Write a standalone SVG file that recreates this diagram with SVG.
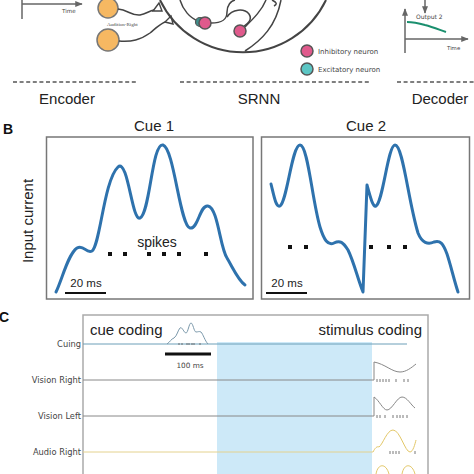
<svg xmlns="http://www.w3.org/2000/svg" width="474" height="474" viewBox="0 0 474 474">
<defs>
<style>
.lbl{font-family:"Liberation Sans",Arial,sans-serif;fill:#222}
.sm{font-family:"DejaVu Sans",sans-serif;fill:#444}
.ax{stroke:#666;stroke-width:1.5;fill:none}
.dash{stroke:#555;stroke-width:1.5;stroke-dasharray:4 2.6;fill:none}
.wire{stroke:#444;stroke-width:1.5;fill:none}
.box{stroke:#777;stroke-width:1.5;fill:none}
.cur{stroke:#2e72ad;stroke-width:3;fill:none;stroke-linejoin:round;stroke-linecap:round}
.spk{fill:#111}
.trk{stroke-width:1;fill:none}
.tick{stroke:#555;stroke-width:0.8}
</style>
<marker id="ah" viewBox="0 0 10 10" refX="9" refY="5" markerWidth="5" markerHeight="5" orient="auto">
<path d="M0,1 L10,5 L0,9 z" fill="#666"/>
</marker>
</defs>
<rect width="474" height="474" fill="#fff"/>

<!-- Encoder input plot -->
<g id="input-plot">
<line class="ax" x1="22" y1="0" x2="22" y2="19"/>
<line class="ax" x1="22" y1="4" x2="82" y2="4" marker-end="url(#ah)"/>
<text class="sm" x="62" y="13" font-size="5.6">Time</text>
</g>

<g id="encoder-neurons">
<circle cx="108" cy="8" r="10" fill="#f6b862" stroke="#777" stroke-width="1.5"/>
<circle cx="108" cy="40" r="11" fill="#f6b862" stroke="#777" stroke-width="1.5"/>
<text x="107" y="26" font-size="5" font-family="Liberation Serif,serif" fill="#444">Audition-Right</text>
</g>

<!-- connectors -->
<g id="connectors">
<path class="wire" d="M118,9 C128,10 132,16 140,15 C146,14 149,11 154,10"/>
<path class="wire" d="M119,41 C132,42 140,40 150,33 C156,28 160,24 165,22"/>
<path d="M153,11 L159,3 L162,11 Z" fill="#fff" stroke="#444" stroke-width="1.4"/>
<path d="M165,22 L171,16 L173,24 Z" fill="#fff" stroke="#444" stroke-width="1.4"/>
<path class="wire" d="M180,0 C183,10 190,18 198,21"/>
<path class="wire" d="M211,23 C222,23 227,20 227,12 C227,5 231,1 235,0"/>
<path class="wire" d="M227,17 C232,9 244,8 249,14 C253,20 247,24 243,27"/>
<path class="wire" d="M245,27 C254,18 262,10 266,0"/>
<path class="wire" d="M245,51 C262,40 276,26 281,0"/>
<path class="wire" d="M272,0 C276,2 278,4 274,6"/>
<line class="ax" x1="425" y1="0" x2="425" y2="13" marker-end="url(#ah)"/>
</g>

<g id="srnn">
<path d="M160,0 A92,92 0 0 0 326,0" fill="none" stroke="#444" stroke-width="2"/>
<circle cx="200" cy="22" r="4.5" fill="#3f8f8c" stroke="#555" stroke-width="1.2"/>
<circle cx="205" cy="23" r="6" fill="#e05a8c" stroke="#555" stroke-width="1.5"/>
<circle cx="240" cy="31" r="6" fill="#e05a8c" stroke="#555" stroke-width="1.5"/>
</g>

<g id="legend">
<circle cx="307" cy="51" r="6" fill="#e05a8c" stroke="#555" stroke-width="1.5"/>
<text class="sm" x="318" y="54" font-size="7">Inhibitory neuron</text>
<circle cx="307" cy="69" r="6" fill="#5cc6c4" stroke="#555" stroke-width="1.5"/>
<text class="sm" x="318" y="72" font-size="7">Excitatory neuron</text>
</g>

<g id="decoder-plot">
<line class="ax" x1="405" y1="53" x2="405" y2="9" marker-end="url(#ah)"/>
<line class="ax" x1="405" y1="39" x2="468" y2="39" marker-end="url(#ah)"/>
<text class="sm" x="416" y="19" font-size="6">Output 2</text>
<path d="M407,22 C412,22 418,23 425,25 C433,27 440,30 446,32" fill="none" stroke="#1a8f6e" stroke-width="2"/>
<text class="sm" x="447" y="50" font-size="5.4">Time</text>
</g>

<g id="sections">
<line class="dash" x1="13" y1="82" x2="137" y2="82"/>
<line class="dash" x1="180" y1="82" x2="369" y2="82"/>
<line class="dash" x1="397" y1="82" x2="474" y2="82"/>
<text class="lbl" x="67" y="104" font-size="15" text-anchor="middle">Encoder</text>
<text class="lbl" x="259" y="104" font-size="15" text-anchor="middle">SRNN</text>
<text class="lbl" x="440" y="104" font-size="15" text-anchor="middle">Decoder</text>
</g>

<!-- Panel B -->
<g id="panel-b">
<text x="3" y="134" font-size="14" font-weight="bold" font-family="Liberation Sans,Arial,sans-serif" fill="#111">B</text>
<text class="lbl" x="29" y="217" font-size="15" text-anchor="middle" transform="rotate(-90 33 217)">Input current</text>
</g>

<g id="cue1">
<text class="lbl" x="154" y="131" font-size="15" text-anchor="middle">Cue 1</text>
<rect class="box" x="46.5" y="137" width="206.5" height="162"/>
<path class="cur" d="M56,292 C62,280 68,254 77,248 C84,244 86,254 92,251 C100,246 104,180 118,167 C128,158 132,222 140,218 C150,214 152,142 163,145 C174,148 180,226 190,228 C198,230 200,204 208,206 C218,208 220,248 227,258 C233,268 238,280 245,285"/>
<rect class="spk" x="108" y="252" width="4" height="4"/>
<rect class="spk" x="123" y="252" width="4" height="4"/>
<rect class="spk" x="147" y="252" width="4" height="4"/>
<rect class="spk" x="162" y="252" width="4" height="4"/>
<rect class="spk" x="177" y="252" width="4" height="4"/>
<rect class="spk" x="204" y="252" width="4" height="4"/>
<text class="lbl" x="157" y="247" font-size="14" text-anchor="middle">spikes</text>
<line x1="65" y1="293" x2="106" y2="293" stroke="#111" stroke-width="2"/>
<text class="lbl" x="86" y="287" font-size="11.5" text-anchor="middle">20 ms</text>
</g>

<g id="cue2">
<text class="lbl" x="366" y="131" font-size="15" text-anchor="middle">Cue 2</text>
<rect class="box" x="261.5" y="137" width="208" height="162"/>
<path class="cur" d="M271,184 C274,196 276,208 280,206 C287,202 292,145 300,145 C308,145 312,200 320,227 C324,240 328,246 334,243 C340,240 343,242 348,250 C354,262 358,280 363,292 L367,185 C370,196 373,208 376,206 C383,202 388,145 395,145 C403,145 408,200 418,233 C422,243 428,245 434,242 C440,240 443,243 447,254 C451,266 454,280 458,292"/>
<rect class="spk" x="288" y="245" width="4" height="4"/>
<rect class="spk" x="304" y="245" width="4" height="4"/>
<rect class="spk" x="369" y="245" width="4" height="4"/>
<rect class="spk" x="387" y="245" width="4" height="4"/>
<rect class="spk" x="403" y="245" width="4" height="4"/>
<line x1="266" y1="293" x2="307" y2="293" stroke="#111" stroke-width="2"/>
<text class="lbl" x="287" y="287" font-size="11.5" text-anchor="middle">20 ms</text>
</g>

<!-- Panel C -->
<g id="panel-c">
<text x="-1" y="322" font-size="14" font-weight="bold" font-family="Liberation Sans,Arial,sans-serif" fill="#111">C</text>
<rect x="217" y="342" width="155" height="132" fill="#cde9f8"/>
<path d="M83,474 L83,315 L428,315 L428,474" fill="none" stroke="#aaa" stroke-width="1.5"/>
<text class="lbl" x="90" y="335" font-size="15">cue coding</text>
<text class="lbl" x="422" y="335" font-size="15" text-anchor="end">stimulus coding</text>
</g>

<g id="track-cuing">
<text class="sm" x="81" y="347" font-size="8.3" text-anchor="end">Cuing</text>
<line class="trk" x1="83" y1="344" x2="407" y2="344" stroke="#6d9fb8"/>
<path class="trk" stroke="#7a98aa" d="M167,344 C170,342 171,339 174,338 C177,336 178,330 180,328 C182,326 184,333 186,333 C188,333 189,323 191,323 C193,323 194,332 196,332 C198,332 199,331 201,332 C203,334 205,341 208,344"/>
<g class="tick">
<line x1="179" y1="343" x2="179" y2="345"/><line x1="182" y1="343" x2="182" y2="345"/>
<line x1="187" y1="343" x2="187" y2="345"/><line x1="189" y1="343" x2="189" y2="345"/>
<line x1="192" y1="343" x2="192" y2="345"/><line x1="194" y1="343" x2="194" y2="345"/>
<line x1="200" y1="343" x2="200" y2="345"/>
</g>
<line x1="165" y1="354" x2="211" y2="354" stroke="#111" stroke-width="3"/>
<text class="sm" x="190" y="368" font-size="7.3" text-anchor="middle">100 ms</text>
</g>

<g id="track-vision-right">
<text class="sm" x="81" y="383" font-size="8.3" text-anchor="end">Vision Right</text>
<path class="trk" stroke="#888" d="M83,380 L374,380 L374,362 C385,364 392,372 400,372 C406,372 411,368 416,364"/>
<g class="tick">
<line x1="377" y1="379" x2="377" y2="382"/><line x1="380" y1="379" x2="380" y2="382"/>
<line x1="383" y1="379" x2="383" y2="382"/><line x1="386" y1="379" x2="386" y2="382"/>
<line x1="389" y1="379" x2="389" y2="382"/><line x1="396" y1="379" x2="396" y2="382"/>
<line x1="404" y1="379" x2="404" y2="382"/><line x1="408" y1="379" x2="408" y2="382"/>
</g>
</g>

<g id="track-vision-left">
<text class="sm" x="81" y="419" font-size="8.3" text-anchor="end">Vision Left</text>
<path class="trk" stroke="#888" d="M83,416 L374,416 L374,397 C379,400 383,410 387,410 C392,410 397,397 402,397 C407,397 411,405 415,408"/>
<g class="tick">
<line x1="377" y1="415" x2="377" y2="418"/><line x1="380" y1="415" x2="380" y2="418"/>
<line x1="385" y1="415" x2="385" y2="418"/><line x1="393" y1="415" x2="393" y2="418"/>
<line x1="397" y1="415" x2="397" y2="418"/><line x1="400" y1="415" x2="400" y2="418"/>
<line x1="403" y1="415" x2="403" y2="418"/><line x1="407" y1="415" x2="407" y2="418"/>
</g>
</g>

<g id="track-audio-right">
<text class="sm" x="81" y="455" font-size="8.3" text-anchor="end">Audio Right</text>
<line class="trk" x1="83" y1="452" x2="373" y2="452" stroke="#e4d28e"/>
<path class="trk" stroke="#e3c767" d="M373,452 C375,448 377,446 379,447 C383,444 387,430 393,430 C400,430 405,452 410,452 C413,452 415,444 416,440"/>
<g class="tick">
<line x1="390" y1="451" x2="390" y2="454"/><line x1="393" y1="451" x2="393" y2="454"/>
<line x1="396" y1="451" x2="396" y2="454"/><line x1="399" y1="451" x2="399" y2="454"/>
<line x1="415" y1="451" x2="415" y2="454"/>
</g>
<path class="trk" stroke="#e3c767" d="M376,474 C378,463 386,463 389,474 M402,474 C404,463 412,463 415,474"/>
</g>
</svg>
